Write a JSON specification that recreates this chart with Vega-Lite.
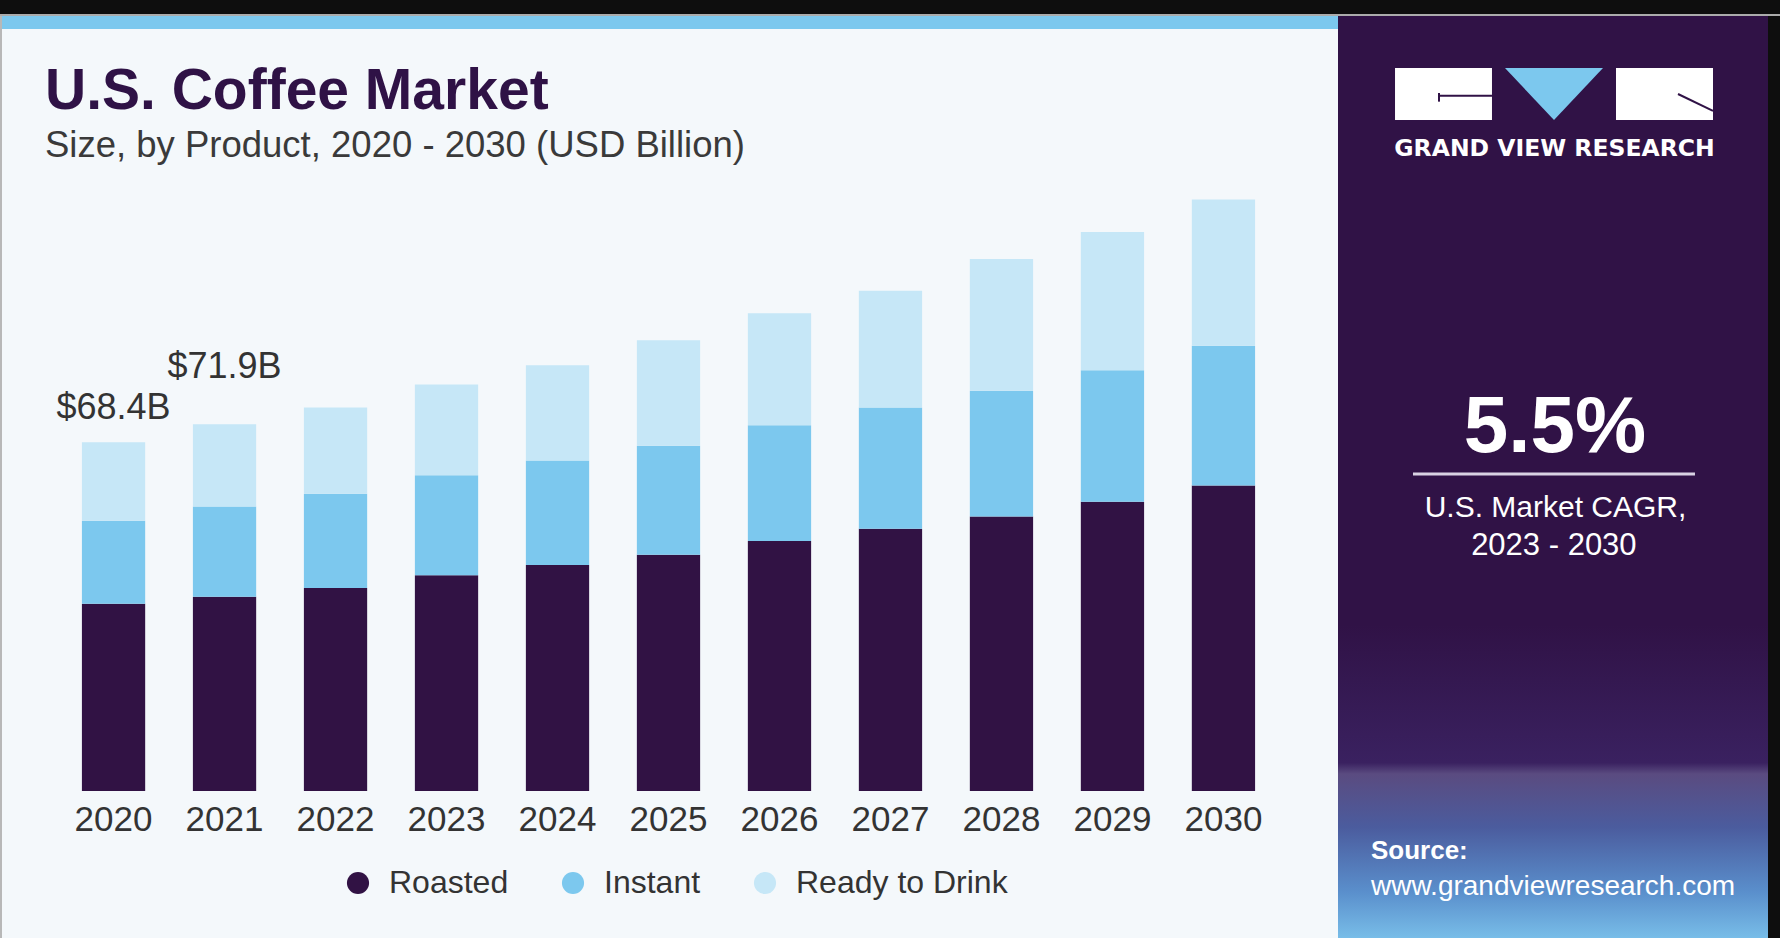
{
  "$schema": "https://vega.github.io/schema/vega-lite/v6.json",
  "background": "#F4F8FB",
  "padding": 0,
  "config": {"view": {"stroke": null}, "concat": {"spacing": 0}, "font": "Liberation Sans"},
  "datasets": {
    "market": [
      {"year": "2020", "product": "Roasted", "value": 36.7, "k": 1},
      {"year": "2020", "product": "Instant", "value": 16.3, "k": 2},
      {"year": "2020", "product": "Ready to Drink", "value": 15.4, "k": 3},
      {"year": "2021", "product": "Roasted", "value": 38.1, "k": 1},
      {"year": "2021", "product": "Instant", "value": 17.7, "k": 2},
      {"year": "2021", "product": "Ready to Drink", "value": 16.1, "k": 3},
      {"year": "2022", "product": "Roasted", "value": 39.8, "k": 1},
      {"year": "2022", "product": "Instant", "value": 18.5, "k": 2},
      {"year": "2022", "product": "Ready to Drink", "value": 16.9, "k": 3},
      {"year": "2023", "product": "Roasted", "value": 42.3, "k": 1},
      {"year": "2023", "product": "Instant", "value": 19.6, "k": 2},
      {"year": "2023", "product": "Ready to Drink", "value": 17.8, "k": 3},
      {"year": "2024", "product": "Roasted", "value": 44.3, "k": 1},
      {"year": "2024", "product": "Instant", "value": 20.5, "k": 2},
      {"year": "2024", "product": "Ready to Drink", "value": 18.7, "k": 3},
      {"year": "2025", "product": "Roasted", "value": 46.3, "k": 1},
      {"year": "2025", "product": "Instant", "value": 21.4, "k": 2},
      {"year": "2025", "product": "Ready to Drink", "value": 20.7, "k": 3},
      {"year": "2026", "product": "Roasted", "value": 49.0, "k": 1},
      {"year": "2026", "product": "Instant", "value": 22.7, "k": 2},
      {"year": "2026", "product": "Ready to Drink", "value": 22.0, "k": 3},
      {"year": "2027", "product": "Roasted", "value": 51.4, "k": 1},
      {"year": "2027", "product": "Instant", "value": 23.8, "k": 2},
      {"year": "2027", "product": "Ready to Drink", "value": 22.9, "k": 3},
      {"year": "2028", "product": "Roasted", "value": 53.8, "k": 1},
      {"year": "2028", "product": "Instant", "value": 24.7, "k": 2},
      {"year": "2028", "product": "Ready to Drink", "value": 25.8, "k": 3},
      {"year": "2029", "product": "Roasted", "value": 56.7, "k": 1},
      {"year": "2029", "product": "Instant", "value": 25.8, "k": 2},
      {"year": "2029", "product": "Ready to Drink", "value": 27.1, "k": 3},
      {"year": "2030", "product": "Roasted", "value": 59.9, "k": 1},
      {"year": "2030", "product": "Instant", "value": 27.4, "k": 2},
      {"year": "2030", "product": "Ready to Drink", "value": 28.7, "k": 3}
    ],
    "totals": [
      {"year": "2020", "total": 68.4, "label": "$68.4B"},
      {"year": "2021", "total": 71.9, "label": "$71.9B"}
    ]
  },
  "vconcat": [
    {"width": 1780, "height": 14, "view": {"fill": "#0E0E0E", "stroke": null}, "data": {"values": []}, "mark": "text", "encoding": {}},
    {"width": 1780, "height": 2, "view": {"fill": "#ABABAB", "stroke": null}, "data": {"values": []}, "mark": "text", "encoding": {}},
    {
      "spacing": 0,
      "hconcat": [
        {"width": 2, "height": 922, "view": {"fill": "#B8B8B8", "stroke": null}, "data": {"values": []}, "mark": "text", "encoding": {}},
        {
          "spacing": 33,
          "vconcat": [
            {"width": 1336, "height": 13, "view": {"fill": "#7CC8EE", "stroke": null}, "data": {"values": []}, "mark": "text", "encoding": {}},
            {
              "width": 1333,
              "height": 612,
              "title": {
                "text": "U.S. Coffee Market",
                "subtitle": "Size, by Product, 2020 - 2030 (USD Billion)",
                "anchor": "start",
                "frame": "group",
                "dx": 43,
                "offset": 14,
                "font": "Liberation Sans",
                "fontSize": 57,
                "fontWeight": "bold",
                "color": "#2F1246",
                "subtitleFont": "Liberation Sans",
                "subtitleFontSize": 36.5,
                "subtitleColor": "#3A3A3A",
                "subtitlePadding": 7
              },
              "layer": [
                {
                  "data": {"name": "market"},
                  "mark": {"type": "bar"},
                  "encoding": {
                    "x": {
                      "field": "year",
                      "type": "ordinal",
                      "scale": {"paddingInner": 0.43, "paddingOuter": 0.72},
                      "axis": {"title": null, "domain": false, "ticks": false, "tickSize": 0, "labelAngle": 0, "labelFontSize": 35, "labelColor": "#333333", "labelPadding": 11, "labelFont": "Liberation Sans"}
                    },
                    "y": {"field": "value", "type": "quantitative", "stack": "zero", "scale": {"domain": [0, 120]}, "axis": null},
                    "color": {
                      "field": "product",
                      "type": "nominal",
                      "scale": {"domain": ["Roasted", "Instant", "Ready to Drink"], "range": ["#311244", "#7CC8EE", "#C6E7F7"]},
                      "legend": {
                        "title": null,
                        "orient": "none",
                        "legendX": 342,
                        "legendY": 867,
                        "direction": "horizontal",
                        "symbolType": "circle",
                        "symbolSize": 490,
                        "symbolStrokeWidth": 0,
                        "labelFontSize": 32,
                        "labelFont": "Liberation Sans",
                        "labelColor": "#333333",
                        "labelOffset": 15,
                        "columnPadding": 48,
                        "padding": 0,
                        "labelLimit": 400
                      }
                    },
                    "order": {"field": "k", "type": "quantitative"}
                  }
                },
                {
                  "data": {"name": "totals"},
                  "transform": [{"filter": "datum.year == '2020'"}],
                  "mark": {"type": "text", "dy": -23, "fontSize": 36, "color": "#333333", "baseline": "alphabetic", "font": "Liberation Sans"},
                  "encoding": {"x": {"field": "year", "type": "ordinal"}, "y": {"field": "total", "type": "quantitative"}, "text": {"field": "label"}}
                },
                {
                  "data": {"name": "totals"},
                  "transform": [{"filter": "datum.year == '2021'"}],
                  "mark": {"type": "text", "dy": -46, "fontSize": 36, "color": "#333333", "baseline": "alphabetic", "font": "Liberation Sans"},
                  "encoding": {"x": {"field": "year", "type": "ordinal"}, "y": {"field": "total", "type": "quantitative"}, "text": {"field": "label"}}
                }
              ]
            }
          ]
        },
        {
          "width": 430,
          "height": 922,
          "view": {"fill": "#301246", "stroke": null},
          "data": {"values": [{}]},
          "layer": [
            {
              "mark": {"type": "rect", "fill": {"gradient": "linear", "x1": 0, "y1": 0, "x2": 0, "y2": 1, "stops": [
                {"offset": 0, "color": "#301246"},
                {"offset": 0.66, "color": "#301246"},
                {"offset": 0.81, "color": "#3A2160"},
                {"offset": 0.822, "color": "#5A4B80"},
                {"offset": 0.88, "color": "#4B5C9E"},
                {"offset": 0.95, "color": "#5A8FCC"},
                {"offset": 1, "color": "#78BDE8"}
              ]}},
              "encoding": {
                "x": {"datum": 0, "type": "quantitative", "scale": {"domain": [0, 100], "nice": false}, "axis": null},
                "x2": {"datum": 100},
                "y": {"datum": 0, "type": "quantitative", "scale": {"domain": [0, 100], "nice": false, "reverse": true}, "axis": null},
                "y2": {"datum": 100}
              }
            },
            {
              "mark": {"type": "rect", "fill": "#FFFFFF"},
              "encoding": {"x": {"datum": 13.26, "type": "quantitative", "axis": null}, "x2": {"datum": 35.81}, "y": {"datum": 5.64, "type": "quantitative", "axis": null}, "y2": {"datum": 11.28}}
            },
            {
              "mark": {"type": "rect", "fill": "#FFFFFF"},
              "encoding": {"x": {"datum": 64.65, "type": "quantitative", "axis": null}, "x2": {"datum": 87.21}, "y": {"datum": 5.64, "type": "quantitative", "axis": null}, "y2": {"datum": 11.28}}
            },
            {
              "mark": {"type": "point", "shape": "M-1,-0.531L1,-0.531L0,0.531Z", "size": 9604, "filled": true, "fill": "#7CC8EE", "opacity": 1, "strokeWidth": 0},
              "encoding": {"x": {"datum": 50.23, "type": "quantitative", "axis": null}, "y": {"datum": 8.46, "type": "quantitative", "axis": null}}
            },
            {
              "mark": {"type": "rule", "color": "#301246", "strokeWidth": 2},
              "encoding": {"x": {"datum": 23.49, "type": "quantitative", "axis": null}, "x2": {"datum": 35.81}, "y": {"datum": 8.64, "type": "quantitative", "axis": null}}
            },
            {
              "mark": {"type": "rule", "color": "#301246", "strokeWidth": 2},
              "encoding": {"x": {"datum": 23.49, "type": "quantitative", "axis": null}, "y": {"datum": 8.35, "type": "quantitative", "axis": null}, "y2": {"datum": 9.29}}
            },
            {
              "mark": {"type": "rule", "color": "#301246", "strokeWidth": 2},
              "encoding": {"x": {"datum": 79.07, "type": "quantitative", "axis": null}, "x2": {"datum": 87.21}, "y": {"datum": 8.46, "type": "quantitative", "axis": null}, "y2": {"datum": 10.3}}
            },
            {
              "mark": {"type": "text", "text": "GRAND VIEW RESEARCH", "font": "DejaVu Sans", "fontWeight": "bold", "fontSize": 23.5, "color": "#FFFFFF", "align": "center", "baseline": "alphabetic"},
              "encoding": {"x": {"datum": 50.35, "type": "quantitative", "axis": null}, "y": {"datum": 15.18, "type": "quantitative", "axis": null}}
            },
            {
              "mark": {"type": "text", "text": "5.5%", "font": "Liberation Sans", "fontWeight": "bold", "fontSize": 80, "color": "#FFFFFF", "align": "center", "baseline": "alphabetic"},
              "encoding": {"x": {"datum": 50.47, "type": "quantitative", "axis": null}, "y": {"datum": 47.29, "type": "quantitative", "axis": null}}
            },
            {
              "mark": {"type": "rule", "color": "#D9D2E3", "strokeWidth": 3},
              "encoding": {"x": {"datum": 17.44, "type": "quantitative", "axis": null}, "x2": {"datum": 83.02}, "y": {"datum": 49.67, "type": "quantitative", "axis": null}}
            },
            {
              "mark": {"type": "text", "text": "U.S. Market CAGR,", "font": "Liberation Sans", "fontSize": 30, "color": "#FFFFFF", "align": "center", "baseline": "alphabetic"},
              "encoding": {"x": {"datum": 50.58, "type": "quantitative", "axis": null}, "y": {"datum": 54.34, "type": "quantitative", "axis": null}}
            },
            {
              "mark": {"type": "text", "text": "2023 - 2030", "font": "Liberation Sans", "fontSize": 31, "color": "#FFFFFF", "align": "center", "baseline": "alphabetic"},
              "encoding": {"x": {"datum": 50.2, "type": "quantitative", "axis": null}, "y": {"datum": 58.46, "type": "quantitative", "axis": null}}
            },
            {
              "mark": {"type": "text", "text": "Source:", "font": "Liberation Sans", "fontWeight": "bold", "fontSize": 26, "color": "#FFFFFF", "align": "left", "baseline": "alphabetic"},
              "encoding": {"x": {"datum": 7.67, "type": "quantitative", "axis": null}, "y": {"datum": 91.43, "type": "quantitative", "axis": null}}
            },
            {
              "mark": {"type": "text", "text": "www.grandviewresearch.com", "font": "Liberation Sans", "fontSize": 28, "color": "#FFFFFF", "align": "left", "baseline": "alphabetic"},
              "encoding": {"x": {"datum": 7.67, "type": "quantitative", "axis": null}, "y": {"datum": 95.34, "type": "quantitative", "axis": null}}
            }
          ]
        },
        {"width": 12, "height": 922, "view": {"fill": "#0E0E0E", "stroke": null}, "data": {"values": []}, "mark": "text", "encoding": {}}
      ]
    }
  ]
}
